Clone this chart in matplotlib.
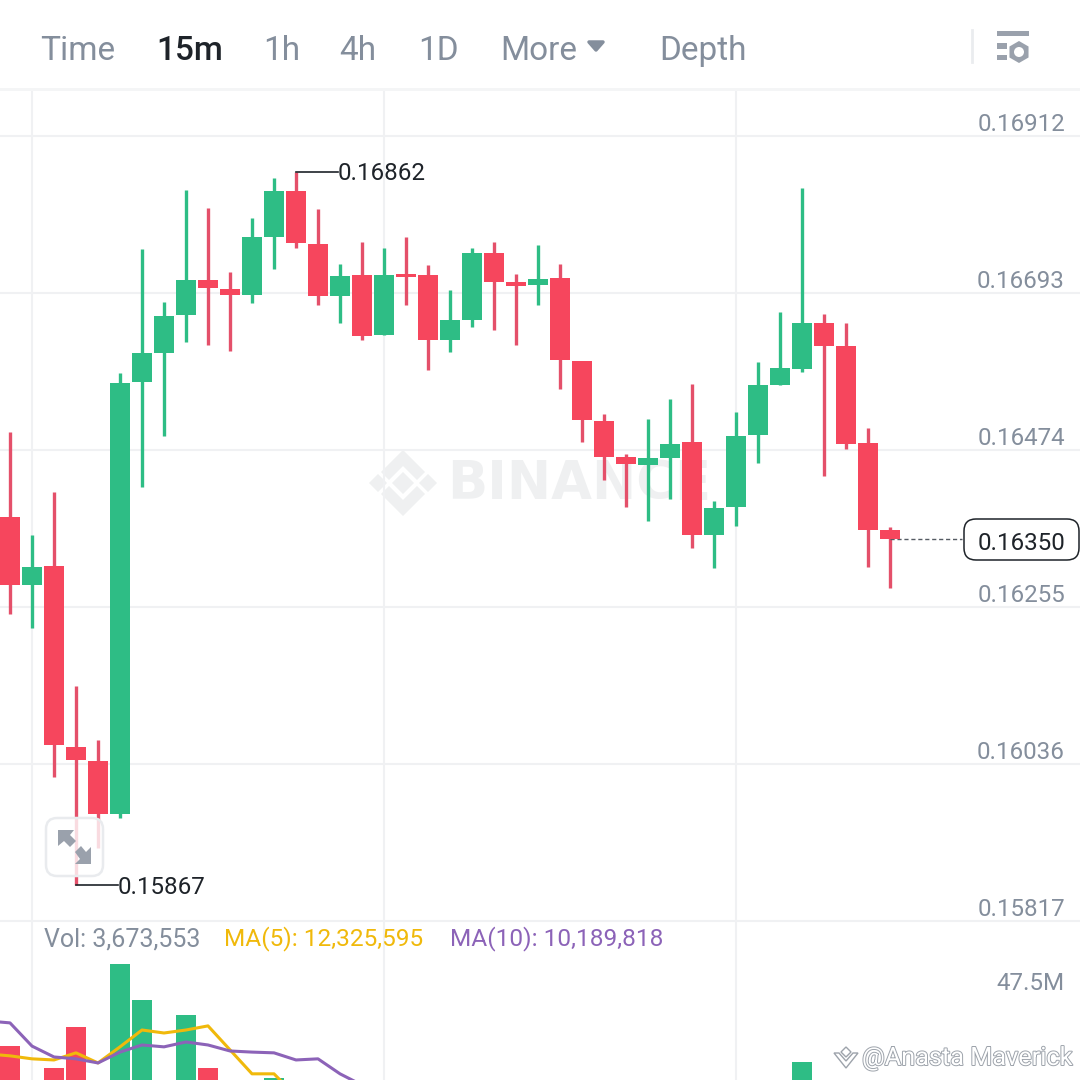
#!/usr/bin/env python3
import matplotlib
matplotlib.use('Agg')
import numpy as np
import matplotlib.pyplot as plt
import matplotlib.patheffects as pe
from matplotlib.patches import Polygon, FancyBboxPatch, Circle, Rectangle

plt.rcParams['font.family'] = ['Roboto', 'DejaVu Sans']

# candles, left to right
opens = [0.16381, 0.16286, 0.16312, 0.16060, 0.16040, 0.15966, 0.16569, 0.16609, 0.16662, 0.16711, 0.16699,
         0.16690, 0.16771, 0.16835, 0.16761, 0.16689, 0.16718, 0.16634, 0.16720, 0.16718, 0.16627, 0.16655,
         0.16749, 0.16708, 0.16704, 0.16714, 0.16598, 0.16514, 0.16464, 0.16453, 0.16463, 0.16485, 0.16355,
         0.16394, 0.16495, 0.16565, 0.16587, 0.16651, 0.16619, 0.16484, 0.16362]
closes = [0.16286, 0.16311, 0.16062, 0.16042, 0.15966, 0.16567, 0.16609, 0.16661, 0.16711, 0.16700, 0.16690,
          0.16771, 0.16835, 0.16763, 0.16689, 0.16717, 0.16633, 0.16718, 0.16715, 0.16627, 0.16655, 0.16749,
          0.16708, 0.16703, 0.16713, 0.16600, 0.16516, 0.16464, 0.16454, 0.16463, 0.16482, 0.16355, 0.16393,
          0.16494, 0.16565, 0.16588, 0.16651, 0.16619, 0.16482, 0.16362, 0.16350]
highs = [0.16499, 0.16355, 0.16415, 0.16145, 0.16069, 0.16581, 0.16754, 0.16680, 0.16837, 0.16812, 0.16722,
         0.16798, 0.16853, 0.16862, 0.16810, 0.16733, 0.16764, 0.16756, 0.16771, 0.16732, 0.16697, 0.16756,
         0.16764, 0.16720, 0.16760, 0.16733, 0.16598, 0.16524, 0.16468, 0.16517, 0.16545, 0.16566, 0.16403,
         0.16527, 0.16597, 0.16667, 0.16839, 0.16664, 0.16651, 0.16505, 0.16367]
lows = [0.16245, 0.16226, 0.16018, 0.15867, 0.15919, 0.15961, 0.16422, 0.16494, 0.16625, 0.16620, 0.16612,
        0.16679, 0.16726, 0.16756, 0.16676, 0.16651, 0.16627, 0.16634, 0.16676, 0.16586, 0.16611, 0.16646,
        0.16641, 0.16620, 0.16676, 0.16559, 0.16485, 0.16432, 0.16394, 0.16375, 0.16406, 0.16337, 0.16309,
        0.16368, 0.16456, 0.16565, 0.16583, 0.16438, 0.16475, 0.16311, 0.16281]

# volume in millions, the small ones are cut off by the bottom of the picture
volumes = [30.4, 16, 24.6, 35.5, 18, 52.3, 42.7, 17, 38.7, 24.6, 15, 12, 21.9, 14, 12, 10, 13, 9, 11, 14, 8, 10,
           12, 9, 8, 21.45, 13, 10, 9, 8, 10, 16, 12, 14, 11, 10, 26.2, 12, 15, 13, 3.67]
ma5 = [28.3, 27.8, 27.0, 26.7, 28.6, 25.9, 30.2, 34.7, 33.9, 34.7, 35.8, 29.4, 23.0, 23.0, 17.0]
ma10 = [37.1, 36.6, 30.4, 27.5, 27.0, 25.9, 28.8, 30.7, 30.2, 31.5, 30.7, 29.1, 28.8, 28.6, 26.7, 27.0, 23.0, 20.0]

price_ticks = [0.16912, 0.16693, 0.16474, 0.16255, 0.16036, 0.15817]
tabs = ['Time', '15m', '1h', '4h', '1D', 'More', 'Depth']
tab_x = [40, 156, 263, 339, 418, 500, 659]
last_price = 0.16350
vol_tick = 47.5

GREEN = '#2ebd85'
RED = '#f6465d'
GRAY = '#848e9c'
DARK = '#1e2329'
GRID = '#f0f1f3'
LABEL = 17.4

fig = plt.figure(figsize=(10.8, 10.8), dpi=100)
xlim = (-10 / 22, 1070 / 22)

ax = fig.add_axes([0, 159 / 1080, 1, 831 / 1080])
vol = fig.add_axes([0, 0, 1, 159 / 1080])
ui = fig.add_axes([0, 0, 1, 1], zorder=5)
ui.set_xlim(0, 1080)
ui.set_ylim(1080, 0)
ui.axis('off')

for a in (ax, vol):
    a.set_xlim(xlim)
    a.patch.set_alpha(0)
    for s in a.spines.values():
        s.set_visible(False)
    a.set_xticks([1, 17, 33])
    a.set_yticks([])
    a.tick_params(length=0, labelbottom=False)
    a.grid(axis='x', color=GRID, lw=1.5, zorder=0)
    a.set_axisbelow(True)

ax.set_ylim(0.15817, 0.16976)
vol.set_ylim(21.35, 63.8)

# watermark sits under the candles
logo = [[(403, 450), (425, 472), (417, 480), (403, 466), (389, 480), (381, 472)],
        [(403, 516), (425, 494), (417, 486), (403, 500), (389, 486), (381, 494)],
        [(369, 483), (378, 474), (387, 483), (378, 492)],
        [(419, 483), (428, 474), (437, 483), (428, 492)],
        [(403, 472), (414, 483), (403, 494), (392, 483)]]
wm_ax = fig.add_axes([0, 0, 1, 1], zorder=-1)
wm_ax.set_xlim(0, 1080)
wm_ax.set_ylim(1080, 0)
wm_ax.axis('off')
for pts in logo:
    wm_ax.add_patch(Polygon(pts, closed=True, color='#eff0f1', lw=0))
wm_ax.text(447, 484, 'BINANCE', fontsize=38, fontweight='bold', family='DejaVu Sans', color='#eff0f1',
           va='center', ha='left')

for p in price_ticks:
    ax.axhline(p, color=GRID, lw=1.5, zorder=0, clip_on=False)
    ax.annotate('%.5f' % p, xy=(1, p), xycoords=('axes fraction', 'data'), xytext=(-15 * .72, 11 * .72),
                textcoords='offset points', ha='right', va='center', fontsize=LABEL, color=GRAY)

idx = np.arange(len(opens))
colors = [GREEN if c > o else RED for o, c in zip(opens, closes)]
wick_colors = [GREEN if c > o else '#e4506a' for o, c in zip(opens, closes)]
ax.vlines(idx, lows, highs, colors=wick_colors, lw=2.4, zorder=2)
bottoms = np.minimum(opens, closes)
heights = np.abs(np.array(closes) - np.array(opens))
ax.bar(idx, heights, bottom=bottoms, width=20 / 22, color=colors, zorder=3)

# high and low markers
hi = int(np.argmax(highs))
lo = int(np.argmin(lows))
for i, val in ((hi, highs[hi]), (lo, lows[lo])):
    ax.plot([i, i + 42 / 22], [val, val], color=DARK, lw=1.2, zorder=6)
    ax.annotate('%.5f' % val, xy=(i, val), xytext=(42 * .72, -2 * .72), textcoords='offset points', va='center',
                ha='left', fontsize=LABEL, color=DARK, zorder=6)

# last price
ax.plot([idx[-1], 962 / 22 - 10 / 22], [last_price, last_price], color='#555b63', lw=1, dashes=(3, 2), zorder=2)
ui.add_patch(FancyBboxPatch((964, 519), 115, 41, boxstyle='round,pad=0,rounding_size=12',
                            fc='white', ec=DARK, lw=1.1))
ui.text(978, 543, '%.5f' % last_price, fontsize=LABEL, color=DARK, va='center', ha='left')

# volume panel
vol.bar(idx, volumes, width=20 / 22, color=colors, bottom=0, zorder=2)
vol.plot(np.arange(len(ma5)) - 1, ma5, color='#f0b90b', lw=2.2, zorder=3)
vol.plot(np.arange(len(ma10)) - 1, ma10, color='#8c63b8', lw=2.2, zorder=3)
vol.annotate('%.1fM' % vol_tick, xy=(1, vol_tick), xycoords=('axes fraction', 'data'), xytext=(-15 * .72, -1 * .72),
             textcoords='offset points', ha='right', va='center', fontsize=LABEL, color=GRAY)

ui.text(44, 939, 'Vol: 3,673,553', fontsize=18, color=GRAY, va='center')
ui.text(224, 939, 'MA(5): 12,325,595', fontsize=17.6, color='#f0b90b', va='center')
ui.text(450, 939, 'MA(10): 10,189,818', fontsize=17.6, color='#8c63b8', va='center')

# top bar
ui.add_patch(Rectangle((0, 0), 1080, 88, fc='white', ec='none'))
ui.add_patch(Rectangle((0, 88), 1080, 3, fc='#f4f5f6', ec='none'))
for t, x in zip(tabs, tab_x):
    on = t == '15m'
    ui.text(x, 51, t, fontsize=24, color=DARK if on else GRAY, fontweight='medium' if on else 'normal',
            va='center', ha='left')
ui.add_patch(Polygon([(589, 42), (603, 42), (596, 50)], closed=True, fc=GRAY, ec=GRAY, lw=2.5, joinstyle='round'))
ui.plot([972, 972], [30, 62], color='#eaecef', lw=2)
ui.add_patch(Rectangle((997, 31), 32, 5, fc='#9aa1ac', ec='none'))
ui.add_patch(Rectangle((997, 43), 10, 6, fc='#9aa1ac', ec='none'))
ui.add_patch(Rectangle((997, 55), 10, 5, fc='#9aa1ac', ec='none'))
hex_a = np.radians(np.arange(6) * 60 + 90)
ui.add_patch(Polygon(np.c_[1019 + 11 * np.cos(hex_a), 52 + 11 * np.sin(hex_a)], closed=True, fc='#9aa1ac', ec='none'))
ui.add_patch(Circle((1019, 52), 5, fc='white', ec='none'))

# expand button
ui.add_patch(FancyBboxPatch((46, 818), 57, 58, boxstyle='round,pad=0,rounding_size=11',
                            fc=(1, 1, 1, 0.8), ec='#e9ebee', lw=1.8))
ui.add_patch(Polygon([(58, 830), (74, 830), (70, 835), (76, 841), (70, 847), (64, 841), (58, 846)],
                     closed=True, fc='#9aa1ac', ec='none'))
ui.add_patch(Polygon([(91, 864), (75, 864), (80, 859), (75, 852), (81, 846), (86, 852), (91, 847)],
                     closed=True, fc='#9aa1ac', ec='none'))

# author watermark
ui.text(862, 1058, '@Anasta Maverick', fontsize=18.2, color='white', va='center', ha='left',
        path_effects=[pe.withStroke(linewidth=1.4, foreground='#9da3ab')])
for pts in ([(846, 1047), (851, 1052), (846, 1057), (841, 1052)],
            [(834, 1053), (846, 1068), (858, 1053), (853, 1053), (846, 1061), (839, 1053)]):
    ui.add_patch(Polygon(pts, closed=True, fc='white', ec='#9da3ab', lw=1))

fig.savefig('out.png', dpi=100, facecolor='white')
